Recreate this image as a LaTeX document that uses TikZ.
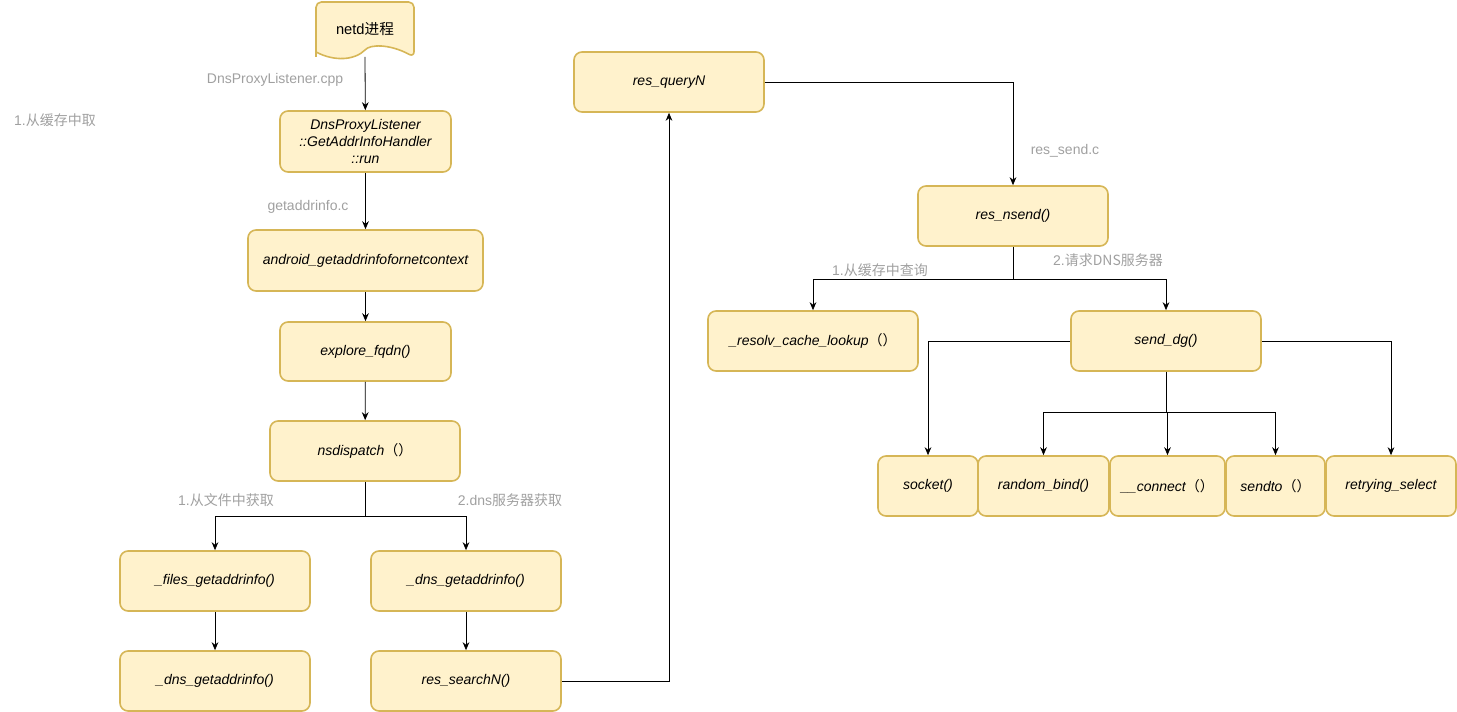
\documentclass[tikz,border=0pt]{standalone}
\usepackage{fontspec}
\setmainfont{Liberation Sans}
\newfontfamily\cjk{Noto Sans CJK SC}
\usetikzlibrary{arrows.meta}
\definecolor{bfill}{HTML}{FFF2CC}
\definecolor{bdraw}{HTML}{D6B656}
\definecolor{lgray}{HTML}{A0A0A0}
\begin{document}
\begin{tikzpicture}[x=0.75pt,y=-0.75pt,
  box/.style={draw=bdraw,fill=bfill,line width=1.2pt,rounded corners=6pt,font=\fontsize{10.5}{12.5}\selectfont\itshape,align=center,inner sep=0pt},
  lbl/.style={text=lgray,font=\fontsize{10.5}{12}\selectfont},
  arr/.style={-{Stealth[length=6pt,width=5pt]},line width=0.6pt}]
\useasboundingbox (0,0) rectangle (1457,712);
% document shape
\filldraw[draw=bdraw,fill=bfill,line width=1.2pt,rounded corners=4pt] (316,57) -- (316,2) -- (414,2) -- (414,57) [sharp corners] .. controls (390,44) and (370,44) .. (365,50) .. controls (355,60) and (335,62) .. (316,52) -- cycle;
\node[font=\fontsize{11}{13}\selectfont] (netd) at (365,29) {netd\cjk{进程}};
\coordinate (netdb) at (365,57);
\newcommand\bx[6]{\node[box,minimum width=#3*0.75pt,minimum height=#4*0.75pt] (#1) at (#2) {#5};}
\bx{dpl}{365.5,141.5}{171}{61}{DnsProxyListener\\::GetAddrInfoHandler\\::run}{}
\bx{andr}{365.5,260.5}{235}{61}{android\_getaddrinfofornetcontext}{}
\bx{expl}{365.5,351.5}{171}{59}{explore\_fqdn()}{}
\bx{nsd}{365,451}{190}{60}{nsdispatch\cjk{（）}}{}
\bx{files}{215,581}{190}{60}{\_files\_getaddrinfo()}{}
\bx{dnsa}{466,581}{190}{60}{\_dns\_getaddrinfo()}{}
\bx{dnsb}{215,681}{190}{60}{\_dns\_getaddrinfo()}{}
\bx{search}{466,681}{190}{60}{res\_searchN()}{}
\bx{query}{669,82}{190}{60}{res\_queryN}{}
\bx{nsend}{1013,216}{190}{60}{res\_nsend()}{}
\bx{resolv}{813,341}{210}{60}{\_resolv\_cache\_lookup\cjk{（）}}{}
\bx{senddg}{1166,341}{190}{60}{send\_dg()}{}
\bx{socket}{928,486}{100}{60}{socket()}{}
\bx{rbind}{1043.5,486}{131}{60}{random\_bind()}{}
\bx{conn}{1167.5,486}{115}{60}{\_\_connect\cjk{（）}}{}
\bx{sendto}{1275.5,486}{99}{60}{sendto\cjk{（）}}{}
\bx{rsel}{1391,486}{130}{60}{retrying\_select}{}
% labels
\node[lbl] (l1) at (275,80) {DnsProxyListener.cpp};
\node[lbl] (l2) at (55,120) {1.\cjk{从缓存中取}};
\node[lbl] (l3) at (308,207) {getaddrinfo.c};
\node[lbl] (l4) at (226,500) {1.\cjk{从文件中获取}};
\node[lbl] (l5) at (510,500) {2.dns\cjk{服务器获取}};
\node[lbl] (l6) at (1065,151) {res\_send.c};
\node[lbl] (l7) at (880,270) {1.\cjk{从缓存中查询}};
\node[lbl] (l8) at (1108,260) {2.\cjk{请求}DNS\cjk{服务器}};
% connectors
\draw[arr] (netdb) -- (dpl);
\draw[arr] (dpl) -- (andr);
\draw[arr] (andr) -- (expl);
\draw[arr] (expl) -- (nsd);
\draw[arr] (nsd.south) -- ++(0,35) -| (files.north);
\draw[arr] (nsd.south) -- ++(0,35) -| (dnsa.north);
\draw[arr] (files) -- (dnsb);
\draw[arr] (dnsa) -- (search);
\draw[arr] (search.east) -| (query.south);
\draw[arr] (query.east) -| (nsend.north);
\draw[arr] (nsend.south) -- ++(0,33) -| (resolv.north);
\draw[arr] (nsend.south) -- ++(0,33) -| (senddg.north);
\draw[arr] (senddg.west) -| (socket.north);
\draw[arr] (senddg.east) -| (rsel.north);
\draw[arr] (senddg.south) -- ++(0,41) -| (rbind.north);
\draw[arr] (senddg.south) -- ++(0,41) -| (conn.north);
\draw[arr] (senddg.south) -- ++(0,41) -| (sendto.north);
\end{tikzpicture}
\end{document}
